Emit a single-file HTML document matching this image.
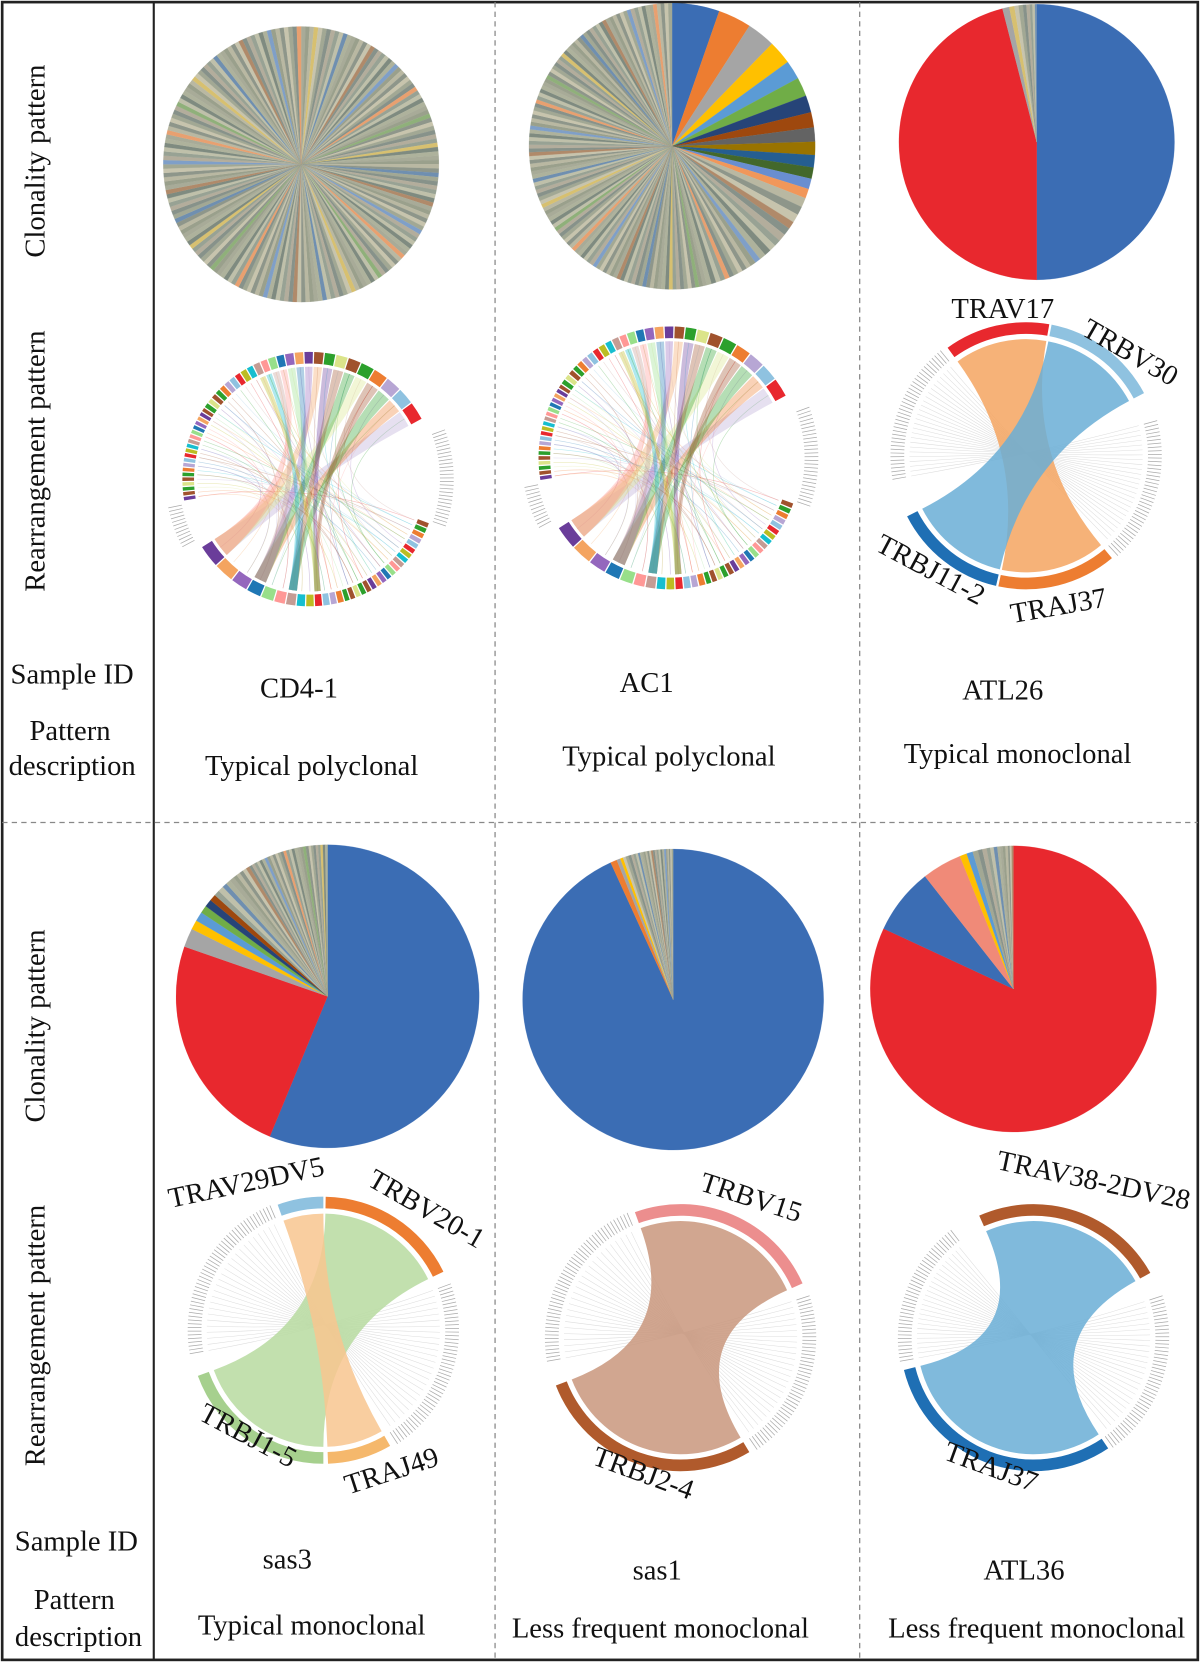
<!DOCTYPE html>
<html><head><meta charset="utf-8"><style>
html,body{margin:0;padding:0;background:#fff}
svg{display:block}
text{font-family:"Liberation Serif",serif;fill:#111}
</style></head><body>
<svg id="fig" width="1200" height="1662" viewBox="0 0 1132 1568" xmlns="http://www.w3.org/2000/svg">
<g id="frame">
<rect x="2" y="2" width="1128" height="1564" fill="none" stroke="#222" stroke-width="2.5"/>
<line x1="145" y1="2" x2="145" y2="1566" stroke="#222" stroke-width="2"/>
<line x1="467" y1="2" x2="467" y2="1566" stroke="#888" stroke-width="1.2" stroke-dasharray="5,4"/>
<line x1="811" y1="2" x2="811" y2="1566" stroke="#888" stroke-width="1.2" stroke-dasharray="5,4"/>
<line x1="2" y1="776" x2="1130" y2="776" stroke="#888" stroke-width="1.2" stroke-dasharray="5,4"/>
</g>
<g font-size="27">
<text transform="translate(42,152) rotate(-90)" text-anchor="middle">Clonality pattern</text>
<text transform="translate(42,435) rotate(-90)" text-anchor="middle">Rearrangement pattern</text>
<text x="68" y="645" text-anchor="middle">Sample ID</text>
<text x="66" y="698" text-anchor="middle">Pattern</text>
<text x="68" y="731" text-anchor="middle">description</text>
<text transform="translate(42,968) rotate(-90)" text-anchor="middle">Clonality pattern</text>
<text transform="translate(42,1260) rotate(-90)" text-anchor="middle">Rearrangement pattern</text>
<text x="72" y="1463" text-anchor="middle">Sample ID</text>
<text x="70" y="1518" text-anchor="middle">Pattern</text>
<text x="74" y="1553" text-anchor="middle">description</text>
</g>
<g font-size="27">
<text x="282" y="658" text-anchor="middle">CD4-1</text>
<text x="294" y="731" text-anchor="middle">Typical polyclonal</text>
<text x="610" y="653" text-anchor="middle">AC1</text>
<text x="631" y="722" text-anchor="middle">Typical polyclonal</text>
<text x="946" y="660" text-anchor="middle">ATL26</text>
<text x="960" y="720" text-anchor="middle">Typical monoclonal</text>
<text x="271" y="1480" text-anchor="middle">sas3</text>
<text x="294" y="1542" text-anchor="middle">Typical monoclonal</text>
<text x="620" y="1490" text-anchor="middle">sas1</text>
<text x="623" y="1545" text-anchor="middle">Less frequent monoclonal</text>
<text x="966" y="1490" text-anchor="middle">ATL36</text>
<text x="978" y="1545" text-anchor="middle">Less frequent monoclonal</text>
</g>
<g id="pies"></g>
<g id="chords"></g>
</svg>
<script>
// ---- pie data (shares, clockwise from 12 o'clock) ----
const cd41Shares = [1,1,1,1,1,1,1,1,1,1,1,1,1,1,1,1,1,1,1,1,1,1,1,1,1,1,1,1,1,1,1,1,1,1,1,1,1,1,1,1,1,1,1,1,1,1,1,1,1,1,1,1,1,1,1,1,1,1,1,1,1,1,1,1,1,1,1,1,1,1,1,1,1,1,1,1,1,1,1,1,1,1,1,1,1,1,1,1,1,1,1,1,1,1,1,1,1,1,1,1,1,1,1,1,1,1,1,1,1,1,1,1,1,1,1,1,1,1,1,1,1,1,1,1,1,1,1,1,1,1,1,1,1,1,1,1,1,1,1,1,1,1,1,1,1,1,1,1,1,1,1,1,1,1,1,1,1,1,1,1,1,1,1,1,1,1,1,1,1,1,1,1,1,1,1,1,1,1,1,1,1,1,1,1,1,1,1,1,1,1,1,1,1,1,1,1,1,1,1,1];
const ac1Shares = [5,3.5,3,2.5,2,2,1.8,1.6,1.5,1.4,1.3,1.2,1.1,1,1,0.9,0.9,0.8,0.8,0.8,0.7,0.7,0.7,0.7,0.6,0.6,0.5,0.5,0.5,0.5,0.5,0.5,0.5,0.5,0.5,0.5,0.4,0.4,0.4,0.4,0.4,0.4,0.4,0.4,0.4,0.4,0.4,0.4,0.4,0.4,0.4,0.4,0.4,0.4,0.4,0.4,0.4,0.4,0.4,0.4,0.4,0.4,0.4,0.4,0.4,0.4,0.4,0.4,0.4,0.4,0.4,0.4,0.4,0.4,0.4,0.4,0.4,0.4,0.4,0.4,0.4,0.4,0.4,0.4,0.4,0.4,0.4,0.4,0.4,0.4,0.4,0.4,0.4,0.4,0.4,0.4,0.4,0.4,0.4,0.4,0.4,0.4,0.4,0.4,0.4,0.4,0.4,0.4,0.4,0.4,0.4,0.4,0.4,0.4,0.4,0.4,0.4,0.4,0.4,0.4,0.4,0.4,0.4,0.4,0.4,0.4,0.4,0.4,0.4,0.4,0.4,0.4,0.4,0.4,0.4,0.4,0.4,0.4,0.4,0.4,0.4,0.4,0.4,0.4,0.4,0.4,0.4,0.4,0.4,0.4,0.4,0.4,0.4,0.4,0.4,0.4,0.4,0.4,0.4,0.4,0.4,0.4];
const atl26Shares = [50,46,0.8,0.6,0.5,0.5,0.4,0.4,0.3,0.3,0.2];
const sas3Shares = [56,24,2,1,1,0.8,0.8,0.7,0.6,0.6,0.5,0.5,0.5,0.4,0.4,0.4,0.4,0.4,0.3,0.3,0.3,0.3,0.3,0.3,0.3,0.3,0.3,0.3,0.3,0.3,0.3,0.3,0.3,0.3,0.3,0.3,0.3,0.3,0.3,0.3,0.25,0.25,0.25,0.25,0.25,0.25,0.25,0.25];
const sas1Shares = [93,0.7,0.4,0.3,0.3,0.3,0.3,0.25,0.25,0.25,0.2,0.2,0.2,0.2,0.2,0.2,0.2,0.2,0.2,0.2,0.2,0.2,0.2,0.2,0.2,0.15,0.15,0.15,0.15,0.15];
const atl36Shares = [82,7.5,4.5,0.8,0.7,0.6,0.5,0.5,0.4,0.4,0.4,0.3,0.3,0.3,0.3,0.2,0.2,0.2];

const mutedPal = ["#a8ab98","#9aa08c","#b9b8a2","#8e968a","#c7c4ad","#a2a894","#87928a","#b3ad9c","#98a294","#bfc0aa","#7f8b80","#aeb29c"];
const fadedPal = ["#7f9fc8","#e8a070","#8fb07a","#d7c070","#6f8fb0","#b08a6a"];
const brightPal = ["#3b6db4","#ed7d31","#a5a5a5","#ffc000","#5b9bd5","#70ad47","#264478","#9e480e","#636363","#997300","#255e91","#43682b","#698ed0","#f1975a"];
function colorsFor(n, lead){ const c=[]; for(let i=0;i<n;i++){ c.push(i<lead.length?lead[i]:(i%7===3?fadedPal[i%fadedPal.length]:mutedPal[i%mutedPal.length])); } return c; }

const NS="http://www.w3.org/2000/svg";
function pt(cx,cy,r,a){ const t=a*Math.PI/180; return [cx+r*Math.sin(t), cy-r*Math.cos(t)]; }
function el(tag,attrs,parent){ const e=document.createElementNS(NS,tag); for(const k in attrs) e.setAttribute(k,attrs[k]); parent.appendChild(e); return e; }

function drawPie(name,cx,cy,r,vals,cols){
  const g=el('g',{},document.getElementById('pies'));
  
  
  const tot=vals.reduce((a,b)=>a+b,0); let a0=0;
  vals.forEach((v,i)=>{
    const a1=a0+v/tot*360; const p0=pt(cx,cy,r,a0), p1=pt(cx,cy,r,a1);
    const p=el('path',{d:`M${cx},${cy}L${p0[0]},${p0[1]}A${r},${r} 0 ${a1-a0>180?1:0} 1 ${p1[0]},${p1[1]}Z`,fill:cols[i],stroke:cols[i],'stroke-width':0.2},g);
    
    
    a0=a1;
  });
}
drawPie('pie-cd4-1',284,155,130,cd41Shares,colorsFor(cd41Shares.length,[]));
drawPie('pie-ac1',634,138,135,ac1Shares,colorsFor(ac1Shares.length,brightPal));
drawPie('pie-atl26',978,134,130,atl26Shares,colorsFor(atl26Shares.length,["#3b6db4","#e8282e","#a5a5a5"]));
drawPie('pie-sas3',309,940,143,sas3Shares,colorsFor(sas3Shares.length,["#3b6db4","#e8282e","#a5a5a5","#ffc000","#5b9bd5","#70ad47","#264478","#9e480e"]));
drawPie('pie-sas1',635,943,142,sas1Shares,colorsFor(sas1Shares.length,["#3b6db4","#ed7d31","#a5a5a5","#ffc000"]));
drawPie('pie-atl36',956,933,135,atl36Shares,colorsFor(atl36Shares.length,["#e8282e","#3b6db4","#f08a78","#ffc000","#5b9bd5"]));

// ---- chord data: gene arcs [name, startAngle, endAngle, colour] and ribbons ----
const atl26Arcs = [["TRAV17",-36,10,"#e8282e"],["TRBV30",11,62,"#8fc2e0"],["TRAJ37",140,192,"#ed7d31"],["TRBJ11-2",193,243,"#1f6fb4"]];
const atl26Links = [[0,2,"#f4a460"],[1,3,"#6aaed6"]];
const sas3Arcs = [["TRAV29DV5",-20,0,"#8fc2e0"],["TRBV20-1",1,64,"#ed7d31"],["TRAJ49",150,178,"#f5b86c"],["TRBJ1-5",180,250,"#a6d08e"]];
const sas3Links = [[1,3,"#b7dba0"],[0,2,"#f8c58f"]];
const sas1Arcs = [["TRBV15",-20,66,"#ec8e8e"],["TRBJ2-4",149,249,"#b05a2c"]];
const sas1Links = [[0,1,"#c9977c"]];
const atl36Arcs = [["TRAV38-2DV28",-24,61,"#b05a2c"],["TRAJ37",146,256,"#1f6fb4"]];
const atl36Links = [[0,1,"#6aaed6"]];
const polyTopSizes = [1,1,1,1,1,1,1,1,1,1,1,1,1,1,1,1,1,1,1,1,1.2,1.2,1.2,1.2,1.3,1.3,1.4,1.4,1.5,1.5,1.6,1.6,1.8,1.8,2,2,2,2.2,2.4,2.6,2.8,3,3.2,3.4,3.6,4];
const polyBotSizes = [1,1,1,1,1,1,1,1,1,1,1,1,1,1,1,1,1,1,1,1,1.2,1.2,1.3,1.4,1.5,1.6,1.8,2,2.3,2.6,3,3.5,4];

const ribbonPal=["#e8282e","#8fc2e0","#b7a6d4","#ed7d31","#2ca02c","#a0522d","#dbe48a","#2ca02c","#a0522d","#6a3d9a","#f4a460","#9467bd","#1f77b4","#98df8a","#ff9896","#c49c94","#17becf","#bcbd22"];

function arcPath(cx,cy,r1,r2,a,b){ const p=pt(cx,cy,r2,a),q=pt(cx,cy,r2,b),s=pt(cx,cy,r1,b),t=pt(cx,cy,r1,a); const lg=b-a>180?1:0;
 return `M${p[0]},${p[1]}A${r2},${r2} 0 ${lg} 1 ${q[0]},${q[1]}L${s[0]},${s[1]}A${r1},${r1} 0 ${lg} 0 ${t[0]},${t[1]}Z`; }
function ribbon(cx,cy,r,a1,a2,b1,b2){ const A1=pt(cx,cy,r,a1),A2=pt(cx,cy,r,a2),B1=pt(cx,cy,r,b1),B2=pt(cx,cy,r,b2);
 return `M${A1[0]},${A1[1]}A${r},${r} 0 0 1 ${A2[0]},${A2[1]}Q${cx},${cy} ${B1[0]},${B1[1]}A${r},${r} 0 0 1 ${B2[0]},${B2[1]}Q${cx},${cy} ${A1[0]},${A1[1]}Z`; }

function greyRim(g,cx,cy,r,a,b,step){ for(let x=a;x<b;x+=step){ const p=pt(cx,cy,r+3,x),q=pt(cx,cy,r+16,x); const l=el('line',{x1:p[0],y1:p[1],x2:q[0],y2:q[1],stroke:'#aaa','stroke-width':0.7},g);   } }

function drawMono(name,cx,cy,r,arcs,links,labelPos,greyRanges){
  const g=el('g',{},document.getElementById('chords'));
  
  
  greyRanges.forEach(gr=>greyRim(g,cx,cy,r,gr[0],gr[1],1.6));
  for(let i=0;i<26;i++){ const a=greyRanges[0][0]+i*(greyRanges[0][1]-greyRanges[0][0])/26, b=greyRanges[1][0]+i*(greyRanges[1][1]-greyRanges[1][0])/26; const p=pt(cx,cy,r-2,a),q=pt(cx,cy,r-2,b); const l=el('path',{d:`M${p[0]},${p[1]}Q${cx},${cy} ${q[0]},${q[1]}`,fill:'none',stroke:'#ddd','stroke-width':0.5},g);   }
  links.forEach(L=>{ const A=arcs[L[0]],B=arcs[L[1]]; const p=el('path',{d:ribbon(cx,cy,r-2,A[1],A[2],B[1],B[2]),fill:L[2],'fill-opacity':0.85,stroke:'none'},g);   });
  arcs.forEach((A,i)=>{ const p=el('path',{d:arcPath(cx,cy,r+3,r+14,A[1],A[2]),fill:A[3]},g);  
    const lp=labelPos[i]; const t=el('text',{x:lp[0],y:lp[1],'font-size':27,'text-anchor':'middle',transform:`rotate(${lp[2]},${lp[0]},${lp[1]})`},g); t.textContent=A[0];   });
}
drawMono('chord-atl26',968,430,112,atl26Arcs,atl26Links,[[946,300,0],[1062,340,30],[1000,580,-10],[874,545,28]],[[-100,-38],[75,138]]);
drawMono('chord-sas3',305,1255,112,sas3Arcs,sas3Links,[[234,1124,-12],[398,1148,30],[372,1396,-18],[230,1362,28]],[[-100,-22],[70,148]]);
drawMono('chord-sas1',642,1262,112,sas1Arcs,sas1Links,[[706,1138,18],[604,1398,20]],[[-100,-22],[72,147]]);
drawMono('chord-atl36',975,1262,112,atl36Arcs,atl36Links,[[1030,1122,12],[932,1392,20]],[[-100,-37],[72,144]]);

function drawPoly(name,cx,cy,r,topA,topB,botA,botB){
  const g=el('g',{},document.getElementById('chords'));
  
  
  greyRim(g,cx,cy,r+14,-118,-100,1.5);
  greyRim(g,cx,cy,r+14,70,botA,1.5);
  const tt=polyTopSizes.reduce((a,b)=>a+b,0), bt=polyBotSizes.reduce((a,b)=>a+b,0);
  const tops=[],bots=[]; let a=topA;
  polyTopSizes.forEach((s,i)=>{ const w=s/tt*(topB-topA); tops.push([a+0.3,a+w-0.3]); const p=el('path',{d:arcPath(cx,cy,r+3,r+14,a+0.3,a+w-0.3),fill:ribbonPal[(polyTopSizes.length-1-i)%ribbonPal.length]},g);   a+=w; });
  a=botA;
  polyBotSizes.forEach((s,i)=>{ const w=s/bt*(botB-botA); bots.push([a+0.3,a+w-0.3]); const p=el('path',{d:arcPath(cx,cy,r+3,r+14,a+0.3,a+w-0.3),fill:ribbonPal[(polyBotSizes.length-1-i+9)%ribbonPal.length]},g);   a+=w; });
  for(let i=0;i<60;i++){ const T=tops[(i*11)%tops.length], B=bots[(i*7)%bots.length]; const p=pt(cx,cy,r,(T[0]+T[1])/2),q=pt(cx,cy,r,(B[0]+B[1])/2); const l=el('path',{d:`M${p[0]},${p[1]}Q${cx},${cy} ${q[0]},${q[1]}`,fill:'none',stroke:ribbonPal[i%ribbonPal.length],'stroke-opacity':0.3,'stroke-width':0.6},g);   }
  for(let i=0;i<16;i++){ const T=tops[tops.length-1-i], B=bots[bots.length-1-((i*3)%12)]; const p=el('path',{d:ribbon(cx,cy,r,T[0],T[1],B[0],B[1]),fill:ribbonPal[(i+2)%ribbonPal.length],'fill-opacity':0.35},g);   }
}
drawPoly('chord-cd4-1',292,452,106,-100,62,110,238);
drawPoly('chord-ac1',632,432,110,-100,62,110,238);
</script>
</body></html>
